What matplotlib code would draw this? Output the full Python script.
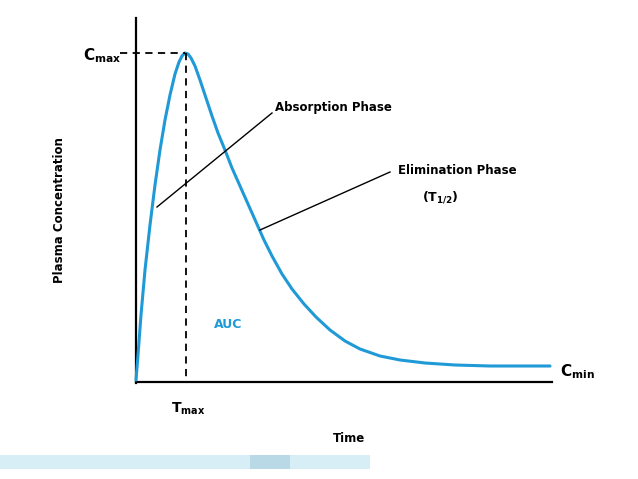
import matplotlib
matplotlib.use("Agg")
import matplotlib.pyplot as plt

# curve (pixel coordinates: x right, y down)
time_px = [136,138,141,145,150,155,160,165,170,175,179,182,185,188,191,195,200,206,212,218,225,232,240,248,256,264,272,282,292,304,316,330,345,360,380,400,425,455,490,520,550]
conc_px = [380,355,315,270,225,185,150,120,95,74,62,56,53,54,58,66,80,98,116,133,150,168,186,204,222,240,256,274,289,304,317,330,341,349,356,360,363,365,366,366,366]

blue = "#1f9ad6"
fig = plt.figure(figsize=(6.38, 4.79), dpi=100)
ax = fig.add_axes([0, 0, 1, 1])
ax.set_xlim(0, 638); ax.set_ylim(479, 0); ax.axis("off")

ax.plot([136, 136], [18, 383], color="black", lw=1.6)
ax.plot([136, 552], [382, 382], color="black", lw=1.6)
ax.plot(time_px, conc_px, color=blue, lw=2.2, solid_capstyle="round", solid_joinstyle="round")
ax.plot([120, 185], [53, 53], "k--", lw=1.3, dashes=(4, 3))
ax.plot([186, 186], [53, 382], "k--", lw=1.3, dashes=(4, 3))
ax.plot([157, 272], [207, 113], color="black", lw=1)
ax.plot([260, 390], [230, 172], color="black", lw=1)

fw = "bold"
ax.text(102, 56, r"$\mathbf{C}_{\mathbf{max}}$", fontsize=11, ha="center", va="center")
ax.text(275, 107, "Absorption Phase", fontsize=8.5, weight=fw, va="center")
ax.text(398, 170, "Elimination Phase", fontsize=8.5, weight=fw, va="center")
ax.text(440, 197, r"$\mathbf{(T}_{\mathbf{1/2}}\mathbf{)}$", fontsize=9, ha="center", va="center")
ax.text(228, 324, "AUC", fontsize=9, weight=fw, color=blue, ha="center", va="center")
ax.text(188, 409, r"$\mathbf{T}_{\mathbf{max}}$", fontsize=10, ha="center", va="center")
ax.text(349, 438, "Time", fontsize=8.5, weight=fw, ha="center", va="center")
ax.text(577, 372, r"$\mathbf{C}_{\mathbf{min}}$", fontsize=11, ha="center", va="center")
ax.text(60, 210, "Plasma Concentration", fontsize=8.5, weight=fw, rotation=90, ha="center", va="center")

ax.add_patch(plt.Rectangle((0, 455), 370, 14, color="#d8eef6", lw=0))
ax.add_patch(plt.Rectangle((250, 455), 40, 14, color="#b9d9e6", lw=0))

fig.savefig("out.png", dpi=100)
